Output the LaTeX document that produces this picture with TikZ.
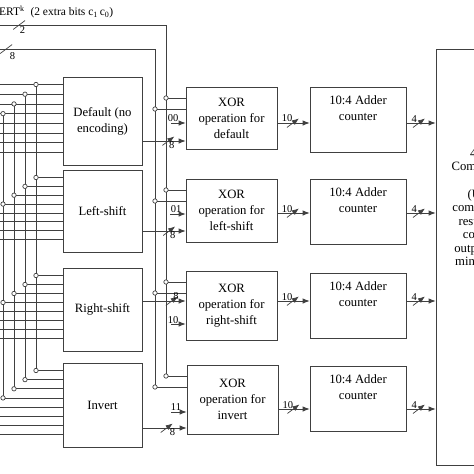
\documentclass[tikz,border=0pt]{standalone}
\usepackage{fontspec}
\setmainfont{Liberation Serif}
\usetikzlibrary{arrows.meta,calc}

\tikzset{
  blk/.style={draw=black!75,line width=.8pt,inner sep=0pt,align=center,font=\fontsize{12.7}{16}\selectfont},
  wire/.style={draw=black!75,line width=.8pt},
  bus/.style={wire,-{Latex[length=7pt,width=5.5pt]}},
  bits/.style={font=\fontsize{10.5}{12}\selectfont,inner sep=.5pt},
  slash/.style={inner sep=0pt,minimum width=12pt,minimum height=9pt,
    path picture={\draw[black!75,line width=.7pt] (path picture bounding box.south west) -- (path picture bounding box.north east);}},
  tap/.style={draw=black!75,line width=.7pt,fill=white},
}

\begin{document}
\begin{tikzpicture}[x=1pt,y=-1pt]
\useasboundingbox (0,0) rectangle (474,474);
\clip (0,0) rectangle (474,474);

\node[anchor=west,inner sep=0pt,font=\fontsize{11.5}{13}\selectfont] (hdr) at (-1,12) {ERT\textsuperscript{k}\ \ (2 extra bits c\textsubscript{1}\,c\textsubscript{0})};

\node[blk,minimum width=79pt,minimum height=88pt] (dft) at (102.5,121) {Default (no\\encoding)};
\node[blk,minimum width=79pt,minimum height=82pt] (lsh) at (102.5,211) {Left-shift};
\node[blk,minimum width=79pt,minimum height=83pt] (rsh) at (102.5,309.5) {Right-shift};
\node[blk,minimum width=79pt,minimum height=84pt] (inv) at (102.5,405) {Invert};

\node[blk,minimum width=91pt,minimum height=62pt] (xor1) at (231.5,118) {XOR\\operation for\\default};
\node[blk,minimum width=91pt,minimum height=63pt] (xor2) at (231.5,210.5) {XOR\\operation for\\left-shift};
\node[blk,minimum width=91pt,minimum height=69pt] (xor3) at (231.5,305.5) {XOR\\operation for\\right-shift};
\node[blk,minimum width=91pt,minimum height=69pt] (xor4) at (232.5,399.5) {XOR\\operation for\\invert};

\foreach \j/\c in {1/119.5,2/211.5,3/305.5,4/398.5}{
  \node[blk,minimum width=96pt,minimum height=65pt] (add\j) at (358,\c) {};
  \node[blk,draw=none] (addt\j) at (358,{\c-11.5}) {10:4 Adder\\counter};
}

\node[blk,minimum width=104pt,minimum height=416pt] (cmp) at (488,257) {};
\node[blk,draw=none,font=\fontsize{12.7}{13.5}\selectfont] (cmpt) at (482,208.5) {4-bit\\Comparator\\[14pt](Uses\\comparison\\results of\\counter\\outputs for\\minimum)};

\foreach \b/\t/\h in {dft/77/88,lsh/170/82,rsh/268/83,inv/363/84}
  \foreach \i in {1,...,8}
    \coordinate (\b-\i) at (0,{\t+7.5+(\i-1)*(\h-20)/7});

\foreach \b in {dft,lsh,rsh,inv}
  \foreach \i in {5,...,8}
    \draw[wire] (\b-\i) -- (\b-\i -| \b.west);
\foreach \i in {1,...,4}
  \draw[wire] (dft-\i) -- (dft-\i -| dft.west);

\foreach \i/\xt in {1/36,2/25,3/14,4/3}{
  \draw[wire] ([xshift=\xt pt]dft-\i) -- ([xshift=\xt pt]inv-\i);
  \foreach \b in {lsh,rsh,inv}
    \draw[wire] ([xshift=\xt pt]\b-\i) -- (\b-\i -| \b.west);
  \foreach \b in {dft,lsh,rsh,inv}
    \draw[tap] ([xshift=\xt pt]\b-\i) circle (2.2);
}

\coordinate (inA) at (0,25);
\coordinate (kA) at (166,25);
\coordinate (inB) at (0,49);
\coordinate (kB) at (155,49);
\foreach \j/\t in {1/87,2/179,3/271,4/365}{
  \coordinate (ta\j) at (166,{\t+11});
  \coordinate (tb\j) at (155,{\t+22});
}
\draw[wire] (inA) -- node[slash,pos=.115]{} node[bits,pos=.135,below=1pt]{2} (kA) -- (ta4);
\draw[wire] (inB) -- node[slash,pos=.04]{} node[bits,pos=.08,below=3pt]{8} (kB) -- (tb4);
\foreach \j in {1,...,4}{
  \draw[wire] (ta\j) -- (ta\j -| xor\j.west);
  \draw[wire] (tb\j) -- (tb\j -| xor\j.west);
  \draw[tap] (ta\j) circle (2.2);
  \draw[tap] (tb\j) circle (2.2);
}

\coordinate (o1) at (0,141);
\coordinate (o2) at (0,231);
\coordinate (o3) at (0,301);
\coordinate (o4) at (0,428);
\draw[bus] (dft.east |- o1) -- node[slash,pos=.6]{} node[bits,pos=.68,below]{8} (xor1.west |- o1);
\draw[bus] (lsh.east |- o2) -- node[slash,pos=.62]{} node[bits,pos=.7,below]{8} (xor2.west |- o2);
\draw[bus] (rsh.east |- o3) -- node[slash,pos=.68]{} node[bits,pos=.78,above=1pt]{8} (xor3.west |- o3);
\draw[bus] (inv.east |- o4) -- node[slash,pos=.55]{} node[bits,pos=.68,below]{8} (xor4.west |- o4);

\coordinate (c1) at (171,123);
\coordinate (c2) at (170,214);
\coordinate (c3) at (171,324);
\coordinate (c4) at (171,412);
\draw[bus] (c1) node[bits,above,xshift=2pt]{00} -- (xor1.west |- c1);
\draw[bus] (c2) node[bits,above=1pt,xshift=6pt]{01} -- (xor2.west |- c2);
\draw[bus] (c3) node[bits,above,xshift=2pt]{10} -- (xor3.west |- c3);
\draw[bus] (c4) node[bits,above=1pt,xshift=5pt]{11} -- (xor4.west |- c4);

\coordinate (r1) at (0,123);
\coordinate (r2) at (0,213);
\coordinate (r3) at (0,301);
\coordinate (r4) at (0,409);
\foreach \j in {1,...,4}{
  \draw[bus] (xor\j.east |- r\j) -- node[slash,pos=.48]{} node[bits,pos=.3,above]{10} (add\j.west |- r\j);
  \draw[bus] (add\j.east |- r\j) -- node[slash,pos=.43]{} node[bits,pos=.27,above]{4} (cmp.west |- r\j);
}

\end{tikzpicture}
\end{document}
